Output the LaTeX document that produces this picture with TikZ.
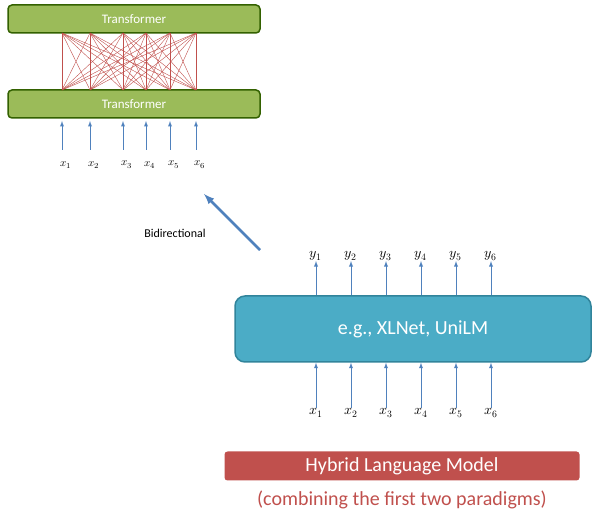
\documentclass[tikz,border=0pt]{standalone}
\usepackage{fontspec}
\setmainfont{Carlito}
\usepackage{unicode-math}
\setmathfont{Latin Modern Math}
\begin{document}
\begin{tikzpicture}[x=1pt,y=-1pt,
  green/.style={draw=green!30!black!60!olive,fill={rgb,255:red,155;green,187;blue,89},line width=1.5pt,rounded corners=4pt,text=white,font=\fontsize{13}{13}\selectfont},
  ar/.style={-latex,draw={rgb,255:red,79;green,129;blue,189},line width=0.9pt},
  att/.style={draw={rgb,255:red,192;green,80;blue,77},line width=0.4pt},
  lab/.style={inner sep=0pt,font=\fontsize{14}{14}\selectfont},
  slab/.style={inner sep=0pt,font=\fontsize{11}{11}\selectfont}]
\useasboundingbox (0,0) rectangle (600,526);
\node[green,minimum width=252pt,minimum height=28pt] (t1) at (134,19) {Transformer};
\node[green,minimum width=252pt,minimum height=28pt] (t2) at (134,104) {Transformer};
\foreach \i/\x in {1/62,2/90,3/123,4/146,5/170,6/196}{
  \coordinate (u\i) at (\x,33);
  \coordinate (d\i) at (\x,90);
  \node[slab] (sx\i) at (\x+4,165) {$x_{\i}$};
  \coordinate (sa\i) at (\x,150);
  \draw[ar] (sa\i) -- (\x,121);
}
\foreach \i in {1,...,6}{\foreach \j in {1,...,6}{\draw[att] (u\i) -- (d\j);}}
\coordinate (bs) at (260,250);
\coordinate (be) at (204,194);
\draw[-latex,draw={rgb,255:red,79;green,129;blue,189},line width=2.5pt] (bs) -- (be);
\node[font=\fontsize{12}{12}\selectfont] (bl) at (175,233) {Bidirectional};
\node[draw={rgb,255:red,49;green,132;blue,155},fill={rgb,255:red,75;green,172;blue,198},line width=1.5pt,rounded corners=10pt,minimum width=356pt,minimum height=66pt,text=white,font=\fontsize{20}{20}\selectfont] (m) at (413,329) {e.g., XLNet, UniLM};
\foreach \i/\x in {1/316,2/351,3/386,4/421,5/456,6/491}{
  \node[lab] (y\i) at (\x,256) {$y_{\i}$};
  \node[lab] (x\i) at (\x,413) {$x_{\i}$};
  \draw[ar] (m.north -| y\i) -- (y\i.south);
  \draw[ar] (x\i.north) -- (m.south -| x\i);
}
\node[fill={rgb,255:red,192;green,80;blue,77},rounded corners=3pt,minimum width=355pt,minimum height=29pt,text=white,font=\fontsize{20}{20}\selectfont] (h) at (402,466) {Hybrid Language Model};
\node[text={rgb,255:red,192;green,80;blue,77},font=\fontsize{20}{20}\selectfont] (h2) at (402,500) {(combining the first two paradigms)};
\end{tikzpicture}
\end{document}
